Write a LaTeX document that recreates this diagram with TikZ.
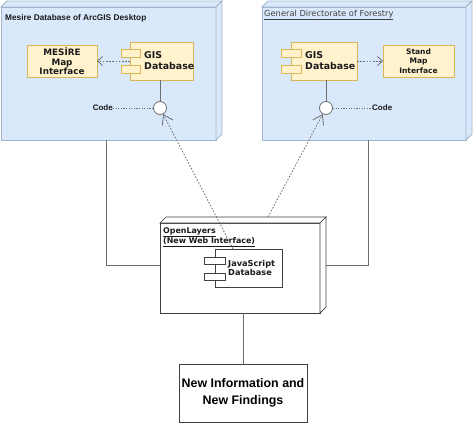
\documentclass[tikz,border=0pt]{standalone}
\usepackage{fontspec}
\setmainfont{Liberation Sans}
\newfontfamily\dvs{DejaVu Sans}
\usetikzlibrary{arrows.meta}
\definecolor{nodeblue}{HTML}{DAE8FC}
\definecolor{nodeblueline}{HTML}{A3B5CC}
\definecolor{compyellow}{HTML}{FFF2CC}
\definecolor{compline}{HTML}{D6B656}
\definecolor{wirec}{HTML}{6E6E6E}
\definecolor{textc}{HTML}{1A1A1A}
\begin{document}
\begin{tikzpicture}[x=1pt,y=-1pt,
  bluebox/.style={draw=nodeblueline,fill=nodeblue,line width=0.9pt,inner sep=0,outer sep=0,anchor=north west},
  whitebox/.style={draw=black!75,fill=white,line width=0.7pt,inner sep=0,outer sep=0,anchor=north west},
  compbox/.style={draw=compline,fill=compyellow,line width=0.8pt,inner sep=0,outer sep=0,anchor=north west},
  wire/.style={draw=wirec,line width=1pt},
  dep/.style={draw=wirec,line width=0.8pt,dash pattern=on 1.6pt off 1.6pt,-{Straight Barb[length=5pt,width=9pt,line width=0.8pt]}},
  longdep/.style={draw=wirec,line width=0.8pt,dash pattern=on 1.6pt off 1.6pt,-{Straight Barb[length=9pt,width=12pt,line width=0.8pt]}},
  dotline/.style={draw=wirec,line width=0.8pt,dash pattern=on 1.2pt off 1.4pt},
  socket/.style={circle,draw=wirec,fill=white,line width=0.8pt,minimum size=13pt,inner sep=0},
  lbl/.style={inner sep=0,text=textc,align=left},
  cname/.style={inner sep=0,text=textc,align=left,font=\dvs\bfseries\fontsize{9.4}{11}\selectfont},
  codelbl/.style={inner sep=0,text=textc,font=\bfseries\fontsize{8}{9}\selectfont}
]
\useasboundingbox (0,0) rectangle (474,428);

% ---------- left node ----------
\node[bluebox,minimum width=215pt,minimum height=133pt] (nodeL) at (1,7) {};
\draw[draw=nodeblueline,fill=nodeblue,line width=0.9pt] (nodeL.north west) -- ([shift={(6,-6)}]nodeL.north west) -- ([shift={(6,-6)}]nodeL.north east) -- (nodeL.north east) -- cycle;
\draw[draw=nodeblueline,fill=nodeblue,line width=0.9pt] (nodeL.north east) -- ([shift={(6,-6)}]nodeL.north east) -- ([shift={(6,-6)}]nodeL.south east) -- (nodeL.south east) -- cycle;
\node[lbl,anchor=west,font=\bfseries\fontsize{8.3}{9}\selectfont] (titleL) at (5,18) {Mesire Database of ArcGIS Desktop};

% ---------- right node ----------
\node[bluebox,minimum width=204pt,minimum height=133pt] (nodeR) at (262,7) {};
\draw[draw=nodeblueline,fill=nodeblue,line width=0.9pt] (nodeR.north west) -- ([shift={(6,-6)}]nodeR.north west) -- ([shift={(6,-6)}]nodeR.north east) -- (nodeR.north east) -- cycle;
\draw[draw=nodeblueline,fill=nodeblue,line width=0.9pt] (nodeR.north east) -- ([shift={(6,-6)}]nodeR.north east) -- ([shift={(6,-6)}]nodeR.south east) -- (nodeR.south east) -- cycle;
\node[lbl,anchor=west,text=black!75,font=\dvs\fontsize{8.3}{9}\selectfont] (titleR) at (264,15) {\underline{General Directorate of Forestry}};

% ---------- left components ----------
\node[compbox,minimum width=70pt,minimum height=32pt,align=center,font=\dvs\bfseries\fontsize{8.8}{9.4}\selectfont,text=textc] (mesire) at (27,45) {MESİRE\\Map\\Interface};
\node[compbox,minimum width=63pt,minimum height=38pt] (gisL) at (130,42) {};
\node[compbox,minimum width=19pt,minimum height=8pt] (gisLa) at (121,49) {};
\node[compbox,minimum width=19pt,minimum height=8pt] (gisLb) at (121,65) {};
\node[cname,anchor=west] (gisLt) at (144,61) {GIS\\Database};
\draw[dep] (gisL.west) -- (mesire.east);

\node[socket] (sockL) at (160,108) {};
\draw[wire] (gisL.south -| sockL) -- (sockL.north);
\node[codelbl,anchor=east] (codeL) at (113,108) {Code};
\draw[dotline] (codeL.east) -- (sockL.west);

% ---------- right components ----------
\node[compbox,minimum width=66pt,minimum height=38pt] (gisR) at (291,42) {};
\node[compbox,minimum width=20pt,minimum height=8pt] (gisRa) at (281,49) {};
\node[compbox,minimum width=20pt,minimum height=8pt] (gisRb) at (281,65) {};
\node[cname,anchor=west] (gisRt) at (305,61) {GIS\\Database};
\node[compbox,minimum width=71pt,minimum height=32pt,align=center,font=\dvs\bfseries\fontsize{7.5}{9.5}\selectfont,text=textc] (stand) at (383,45) {Stand\\Map\\Interface};
\draw[dep] (gisR.east) -- (stand.west);

\node[socket] (sockR) at (326,108) {};
\draw[wire] (gisR.south -| sockR) -- (sockR.north);
\node[codelbl,anchor=west] (codeR) at (372,108) {Code};
\draw[dotline] (sockR.east) -- (codeR.west);

% ---------- OpenLayers node ----------
\node[whitebox,minimum width=160pt,minimum height=90pt] (ol) at (160,223) {};
\draw[draw=black!75,fill=white,line width=0.7pt] (ol.north west) -- ([shift={(6,-6)}]ol.north west) -- ([shift={(6,-6)}]ol.north east) -- (ol.north east) -- cycle;
\draw[draw=black!75,fill=white,line width=0.7pt] (ol.north east) -- ([shift={(6,-6)}]ol.north east) -- ([shift={(6,-6)}]ol.south east) -- (ol.south east) -- cycle;
\node[lbl,anchor=north west,font=\dvs\bfseries\fontsize{7.9}{8.4}\selectfont] (olt) at (163,227) {\underline{OpenLayers}\\\underline{(New Web Interface)}};
\node[whitebox,draw=black!75,minimum width=67pt,minimum height=38pt] (js) at (215,249) {};
\node[whitebox,draw=black!75,minimum width=21pt,minimum height=7pt] (jsa) at (204,257) {};
\node[whitebox,draw=black!75,minimum width=21pt,minimum height=7pt] (jsb) at (204,273) {};
\node[cname,anchor=west,font=\dvs\bfseries\fontsize{8.2}{9.5}\selectfont] (jst) at (228,268) {JavaScript\\Database};

% ---------- links ----------
\coordinate (jsTop) at (233,249);
\coordinate (olTop) at (268,217);
\draw[longdep] (jsTop) -- (sockL);
\draw[longdep] (olTop) -- (sockR);

\coordinate (lj) at (106,265);
\coordinate (rj) at (368,265);
\coordinate (olRight) at ([shift={(6,0)}]ol.east);
\draw[wire] (nodeL.south -| lj) |- (ol.west |- lj);
\draw[wire] (nodeR.south -| rj) |- (olRight |- rj);

% ---------- result ----------
\node[whitebox,minimum width=128pt,minimum height=58pt,align=center,font=\bfseries\fontsize{12.4}{17}\selectfont,text=black] (newinfo) at (179,364) {New Information and\\New Findings};
\draw[wire] (newinfo.north |- ol.south) -- (newinfo.north);
\end{tikzpicture}
\end{document}
